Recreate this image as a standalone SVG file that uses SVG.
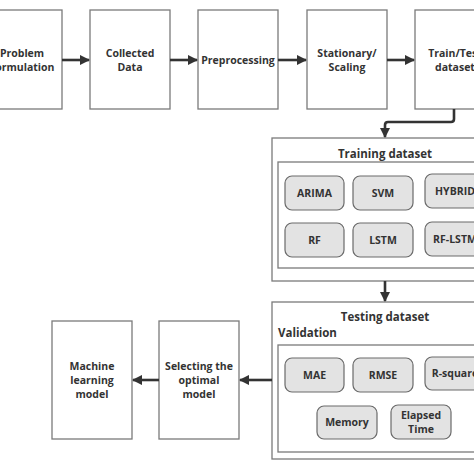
<svg xmlns="http://www.w3.org/2000/svg" width="474" height="474" viewBox="0 0 474 474">
<style>
.box{fill:#fff;stroke:#7a7a7a;stroke-width:1.3}
.pill{fill:#e3e3e3;stroke:#6a6a6a;stroke-width:1.2}
text{font-family:"Open Sans","Noto Sans","DejaVu Sans",sans-serif;font-weight:bold;font-size:10.5px;fill:#333;text-anchor:middle}
.title{font-size:11.5px}
.conn{fill:none;stroke:#333;stroke-width:2.6}
</style>
<defs>
<marker id="ah" viewBox="0 0 10 10" refX="9" refY="5" markerWidth="4" markerHeight="4" orient="auto" markerUnits="strokeWidth">
<path d="M0,0 L10,5 L0,10 z" fill="#333"/>
</marker>
</defs>
<rect width="474" height="474" fill="#fff"/>
<g id="n1"><rect class="box" x="-18" y="10" width="80" height="99"/><text x="22" y="57">Problem</text><text x="22" y="71">Formulation</text></g>
<g id="n2"><rect class="box" x="90" y="10" width="80" height="99"/><text x="130" y="57">Collected</text><text x="130" y="71">Data</text></g>
<g id="n3"><rect class="box" x="198" y="10" width="80" height="99"/><text x="238" y="64">Preprocessing</text></g>
<g id="n4"><rect class="box" x="307" y="10" width="80" height="99"/><text x="347" y="57">Stationary/</text><text x="347" y="71">Scaling</text></g>
<g id="n5"><rect class="box" x="415" y="10" width="80" height="99"/><text x="455" y="57">Train/Test</text><text x="455" y="71">dataset</text></g>
<g id="training">
<rect class="box" x="272" y="138" width="220" height="143"/>
<text class="title" x="385" y="158">Training dataset</text>
<rect class="box" x="278" y="162" width="210" height="106"/>
<g id="arima"><rect class="pill" x="285" y="176" width="59" height="34" rx="7"/><text x="314.5" y="197">ARIMA</text></g>
<g id="svm"><rect class="pill" x="353" y="176" width="60" height="34" rx="7"/><text x="383" y="197">SVM</text></g>
<g id="hybrid"><rect class="pill" x="425" y="174" width="60" height="34" rx="7"/><text x="455" y="195">HYBRID</text></g>
<g id="rf"><rect class="pill" x="285" y="223" width="59" height="34" rx="7"/><text x="314.5" y="244">RF</text></g>
<g id="lstm"><rect class="pill" x="353" y="223" width="60" height="34" rx="7"/><text x="383" y="244">LSTM</text></g>
<g id="rflstm"><rect class="pill" x="425" y="222" width="60" height="34" rx="7"/><text x="455" y="243">RF-LSTM</text></g>
</g>
<g id="testing">
<rect class="box" x="272" y="302" width="220" height="157"/>
<text class="title" x="385" y="321">Testing dataset</text>
<text class="title" x="278" y="337" style="text-anchor:start">Validation</text>
<rect class="box" x="278" y="345" width="210" height="107"/>
<g id="mae"><rect class="pill" x="285" y="358" width="59" height="34" rx="7"/><text x="314.5" y="379">MAE</text></g>
<g id="rmse"><rect class="pill" x="353" y="358" width="60" height="34" rx="7"/><text x="383" y="379">RMSE</text></g>
<g id="rsq"><rect class="pill" x="425" y="357" width="60" height="33" rx="7"/><text x="455" y="377">R-square</text></g>
<g id="memory"><rect class="pill" x="317" y="406" width="60" height="33" rx="7"/><text x="347" y="426">Memory</text></g>
<g id="elapsed"><rect class="pill" x="391" y="405" width="60" height="34" rx="7"/><text x="421" y="419">Elapsed</text><text x="421" y="433">Time</text></g>
</g>
<g id="n6"><rect class="box" x="159" y="321" width="80" height="118"/><text x="199" y="370">Selecting the</text><text x="199" y="384">optimal</text><text x="199" y="398">model</text></g>
<g id="n7"><rect class="box" x="52" y="321" width="80" height="118"/><text x="92" y="370">Machine</text><text x="92" y="384">learning</text><text x="92" y="398">model</text></g>
<g id="connectors">
<line class="conn" x1="62" y1="60" x2="89" y2="60" marker-end="url(#ah)"/>
<line class="conn" x1="170" y1="60" x2="197" y2="60" marker-end="url(#ah)"/>
<line class="conn" x1="278" y1="60" x2="306" y2="60" marker-end="url(#ah)"/>
<line class="conn" x1="387" y1="60" x2="414" y2="60" marker-end="url(#ah)"/>
<path class="conn" d="M454,109 V119 Q454,122 451,122 H388 Q385,122 385,125 V137" marker-end="url(#ah)"/>
<line class="conn" x1="385" y1="281" x2="385" y2="301" marker-end="url(#ah)"/>
<line class="conn" x1="272" y1="380" x2="240" y2="380" marker-end="url(#ah)"/>
<line class="conn" x1="159" y1="380" x2="133" y2="380" marker-end="url(#ah)"/>
</g>
</svg>
